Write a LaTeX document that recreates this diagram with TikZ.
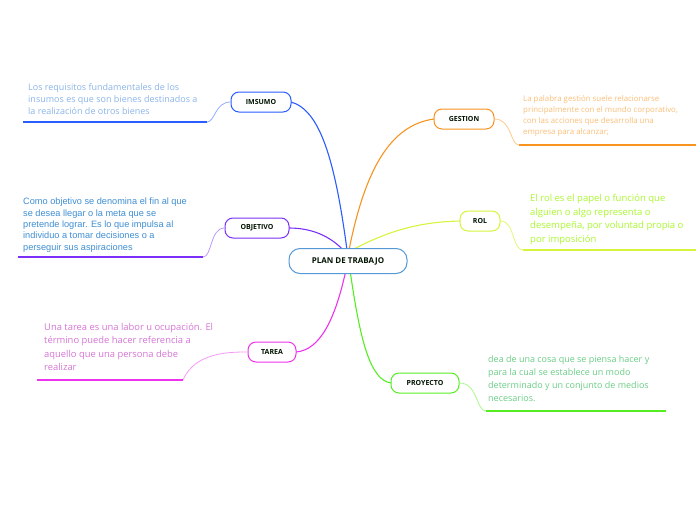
\documentclass[tikz,border=0pt]{standalone}
\usepackage{fontspec}
\setmainfont{Open Sans}
\newfontfamily\arialf{Liberation Sans}
\begin{document}
\begin{tikzpicture}[x=1pt,y=-1pt,
 topic/.style={draw,rounded corners=8pt,line width=1pt,fill=white,minimum height=20pt,font=\fontsize{7}{8}\selectfont\bfseries,text=black!80!green!40!black,inner xsep=6pt},
 desc/.style={anchor=north west,align=left,inner sep=0pt},
 br/.style={line width=1.1pt},
 ul/.style={line width=1.4pt}]
\useasboundingbox (0,0) rectangle (696,520);
\definecolor{cimb}{HTML}{2A5CFF}\definecolor{cges}{HTML}{F7931E}\definecolor{crol}{HTML}{D4F53C}
\definecolor{cobj}{HTML}{7B2FF7}\definecolor{ctar}{HTML}{EE33EE}\definecolor{cpro}{HTML}{55EE22}
\definecolor{timb}{HTML}{8AB4E8}
% branches
\draw[br,cimb] (347,250) .. controls (335,160) and (320,110) .. (291,102);
\draw[br,cges] (349,250) .. controls (365,170) and (390,125) .. (434,119);
\draw[br,crol] (352,250) .. controls (390,230) and (420,222) .. (460,221);
\draw[br,cobj] (345,252) .. controls (330,235) and (310,228) .. (289,228);
\draw[br,ctar] (346,270) .. controls (335,320) and (320,350) .. (296,352);
\draw[br,cpro] (350,270) .. controls (360,340) and (370,380) .. (391,383);
\node[topic,draw=cyan!60!blue!70,minimum width=118pt,minimum height=25pt,font=\fontsize{8}{9}\selectfont\bfseries,rounded corners=11pt] (c) at (348,261) {PLAN DE TRABAJO};
\node[topic,draw=cimb,minimum width=60pt] (imb) at (261,102) {IMSUMO};
\node[topic,draw=cges,minimum width=60pt] (ges) at (464,119) {GESTION};
\node[topic,draw=crol,minimum width=40pt] (rol) at (480,221) {ROL};
\node[topic,draw=cobj,minimum width=64pt] (obj) at (257,228) {OBJETIVO};
\node[topic,draw=ctar,minimum width=48pt] (tar) at (272,352) {TAREA};
\node[topic,draw=cpro,minimum width=68pt] (pro) at (425,383) {PROYECTO};
% underlines
\coordinate (u1) at (207,122); \coordinate (u1e) at (23,122);
\draw[cimb!50,line width=0.8pt] (imb.west) .. controls (215,102) and (215,122) .. (u1);
\draw[ul,cimb] (u1) -- (u1e);
\coordinate (u2) at (519,145); \coordinate (u2e) at (696,145);
\draw[cges!50,line width=0.8pt] (ges.east) .. controls (512,119) and (510,145) .. (u2);
\draw[ul,cges] (u2) -- (u2e);
\coordinate (u3) at (523,250); \coordinate (u3e) at (696,250);
\draw[crol!70,line width=0.8pt] (rol.east) .. controls (515,221) and (512,250) .. (u3);
\draw[ul,crol] (u3) -- (u3e);
\coordinate (u4) at (203,257); \coordinate (u4e) at (18,257);
\draw[cobj!50,line width=0.8pt] (obj.west) .. controls (210,228) and (212,257) .. (u4);
\draw[ul,cobj] (u4) -- (u4e);
\coordinate (u5) at (183,380); \coordinate (u5e) at (37,380);
\draw[ctar!50,line width=0.8pt] (tar.west) .. controls (230,352) and (195,352) .. (u5);
\draw[ul,ctar] (u5) -- (u5e);
\coordinate (u6) at (486,411); \coordinate (u6e) at (666,411);
\draw[cpro!50,line width=0.8pt] (pro.east) .. controls (478,383) and (476,411) .. (u6);
\draw[ul,cpro] (u6) -- (u6e);
% descriptions
\node[desc,text=timb,font=\fontsize{9}{12.2}\selectfont] (t1) at (28,83) {Los requisitos fundamentales de los\\insumos es que son bienes destinados a\\la realización de otros bienes};
\node[desc,text=cges!60,font=\fontsize{7.9}{11.2}\selectfont] (t2) at (523,95) {La palabra gestión suele relacionarse\\principalmente con el mundo corporativo,\\con las acciones que desarrolla una\\empresa para alcanzar;};
\node[desc,text=crol!80!green,font=\fontsize{9.5}{13.6}\selectfont] (t3) at (530,194) {El rol es el papel o función que\\alguien o algo representa o\\desempeña, por voluntad propia o\\por imposición};
\node[desc,text=cyan!60!blue!80,font=\arialf\fontsize{9.2}{11.3}\selectfont] (t4) at (23,198) {Como objetivo se denomina el fin al que\\se desea llegar o la meta que se\\pretende lograr. Es lo que impulsa al\\individuo a tomar decisiones o a\\perseguir sus aspiraciones};
\node[desc,text=ctar!50!violet!60,font=\fontsize{9.4}{13.3}\selectfont] (t5) at (44,323) {Una tarea es una labor u ocupación. El\\término puede hacer referencia a\\aquello que una persona debe\\realizar};
\node[desc,text=cpro!50!teal!70,font=\fontsize{9}{13}\selectfont] (t6) at (488,355) {dea de una cosa que se piensa hacer y\\para la cual se establece un modo\\determinado y un conjunto de medios\\necesarios.};
\end{tikzpicture}
\end{document}
